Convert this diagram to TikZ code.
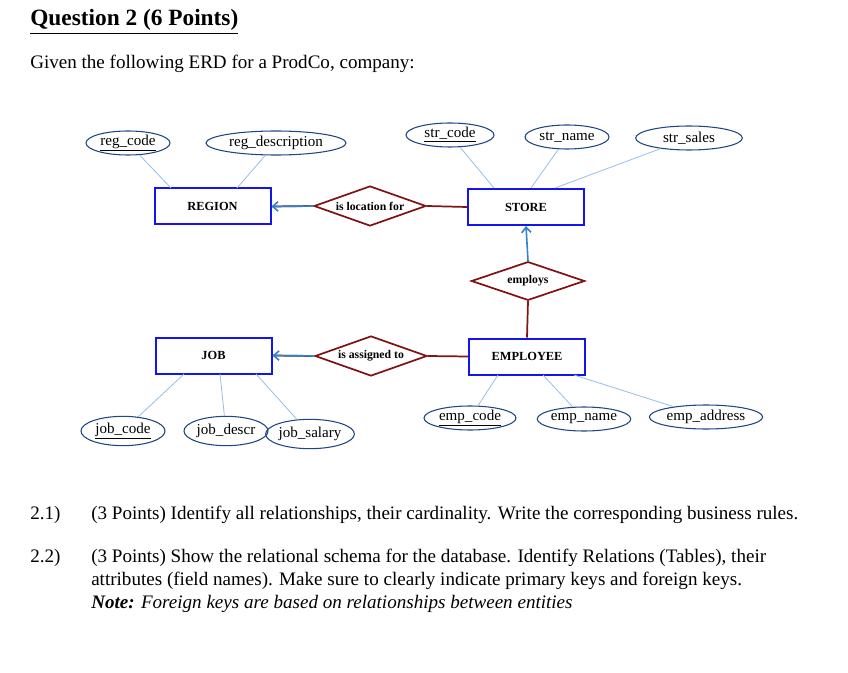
\documentclass[tikz,border=0pt]{standalone}
\usepackage{fontspec}
\setmainfont{Liberation Serif}
\usetikzlibrary{shapes.geometric,arrows.meta}
\definecolor{dred}{RGB}{128,20,20}
\definecolor{eblue}{RGB}{30,70,130}
\definecolor{lblue}{RGB}{150,190,230}
\definecolor{ablue}{RGB}{50,130,210}
\definecolor{bblue}{RGB}{20,20,240}
\begin{document}
\begin{tikzpicture}[x=0.75pt,y=-0.75pt,
 ent/.style={rectangle,draw=bblue,line width=1.5pt,minimum width=87pt,minimum height=27pt,inner sep=0pt,font=\fontsize{9.3}{10}\selectfont\bfseries},
 rel/.style={draw=dred,line width=1.3pt,diamond,aspect=2.8,inner sep=0pt,font=\fontsize{8.8}{10}\selectfont\bfseries},
 att/.style={draw=eblue,line width=0.8pt,ellipse,inner sep=0pt,minimum height=18pt,font=\fontsize{11.3}{12}\selectfont},
 al/.style={draw=lblue,line width=0.6pt},
 rl/.style={draw=dred,line width=1.3pt},
 ar/.style={draw=ablue,line width=1.2pt,-{Straight Barb[length=4pt,width=7pt]}},
 txt/.style={anchor=base west,inner sep=0pt,font=\fontsize{14.3}{16}\selectfont}]
\useasboundingbox (0,0) rectangle (848,673);
\node[anchor=base west,inner sep=0pt,font=\fontsize{17.5}{20}\selectfont\bfseries] (t) at (30,26) {\underline{Question 2 (6 Points)}};
\node[txt] (g) at (30,69) {Given the following ERD for a ProdCo, company:};
% entities
\node[ent] (region) at (212.5,206.5) {REGION};
\node[ent] (store) at (526,207) {STORE};
\node[ent] (job) at (213.5,355.5) {JOB};
\node[ent] (emp) at (527,356.5) {EMPLOYEE};
% relations
\node[rel,minimum width=84pt,minimum height=30pt] (loc) at (370,206) {is location for};
\node[rel,minimum width=85pt,minimum height=29pt] (empl) at (528,281) {employs};
\node[rel,minimum width=84pt,minimum height=30pt] (asg) at (371,356) {is assigned to};
% attributes
\node[att,minimum width=63pt] (rc) at (128,143) {\underline{reg\_code}};
\node[att,minimum width=105pt] (rd) at (276,143) {reg\_description};
\node[att,minimum width=66pt] (sc) at (450,135) {\underline{str\_code}};
\node[att,minimum width=63pt] (sn) at (567,137) {str\_name};
\node[att,minimum width=80pt] (ss) at (689,138) {str\_sales};
\node[att,minimum width=63pt,minimum height=22pt] (jc) at (123,431) {\underline{job\_code}};
\node[att,minimum width=63pt,minimum height=22pt] (jd) at (226,431) {job\_descr};
\node[att,minimum width=56pt,minimum height=22pt] (js) at (310,434) {job\_salary};
\node[att,minimum width=69pt] (ec) at (470,418) {\underline{emp\_code}};
\node[att,minimum width=69pt] (en) at (584,419) {emp\_name};
\node[att,minimum width=85pt] (ea) at (706,417) {emp\_address};
% attribute links
\coordinate (r1) at (171,188); \coordinate (r2) at (237,188);
\draw[al] (rc) -- (r1); \draw[al] (rd) -- (r2);
\coordinate (s1) at (494,188); \coordinate (s2) at (531,188); \coordinate (s3) at (555,188);
\draw[al] (sc) -- (s1); \draw[al] (sn) -- (s2); \draw[al] (ss) -- (s3);
\coordinate (j1) at (184,374); \coordinate (j2) at (220,374); \coordinate (j3) at (256,374);
\draw[al] (jc) -- (j1); \draw[al] (jd) -- (j2); \draw[al] (js) -- (j3);
\coordinate (e1) at (498,375); \coordinate (e2) at (543,375); \coordinate (e3) at (574,375);
\draw[al] (ec) -- (e1); \draw[al] (en) -- (e2); \draw[al] (ea) -- (e3);
% relationships
\draw[rl] (loc.east) -- (store.west);
\draw[rl] (region.east) -- (loc.west);
\draw[ar] (loc.west) -- (region.east);
\draw[ar] (empl.north) -- (store.south);
\draw[rl] (empl.south) -- (emp.north);
\draw[rl] (asg.east) -- (emp.west);
\draw[rl] (job.east) -- (asg.west);
\draw[ar] (asg.west) -- (job.east);
% questions
\node[txt] (q1n) at (30,519) {2.1)};
\node[txt] (q1) at (91,519) {(3 Points) Identify all relationships, their cardinality. Write the corresponding business rules.};
\node[txt] (q2n) at (30,562) {2.2)};
\node[txt] (q2a) at (91,562) {(3 Points) Show the relational schema for the database. Identify Relations (Tables), their};
\node[txt] (q2b) at (91,585) {attributes (field names). Make sure to clearly indicate primary keys and foreign keys.};
\node[txt] (q2c) at (91,608) {\textbf{\textit{Note:}} \textit{Foreign keys are based on relationships between entities}};
\end{tikzpicture}
\end{document}
